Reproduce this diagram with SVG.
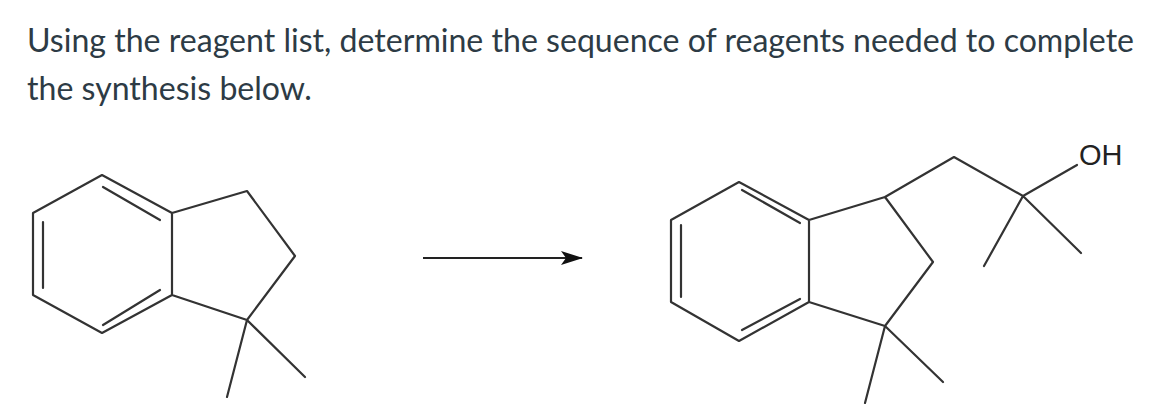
<svg xmlns="http://www.w3.org/2000/svg" width="1162" height="420" viewBox="0 0 1162 420">
<style>
.t{font-family:Lato,"Liberation Sans",sans-serif;font-size:32.1px;fill:#2d3b45}
.b{stroke:#333;stroke-width:2.2;fill:none;stroke-linecap:round;stroke-linejoin:round}
.a{font-family:"Liberation Sans",Arial,sans-serif;font-size:29px;fill:#222}
</style>
<defs><marker id="ah" markerWidth="22" markerHeight="14" refX="21" refY="7" orient="auto" markerUnits="userSpaceOnUse"><path d="M0,0 L22,7 L0,14 L5,7 Z" fill="#111"/></marker></defs>
<rect width="1162" height="420" fill="#fff"/>
<text class="t" x="27" y="52">Using the reagent list, determine the sequence of reagents needed to complete</text>
<text class="t" x="27" y="100">the synthesis below.</text>
<g id="reactant">
<path class="b" d="M102,175 L33,213 L33,295 L102,333 L172,295 L172,213 Z M43,222 L43,288 M103,187 L160,220 M103,325 L160,290 M172,213 L247,191 L295,256 L247,320 L172,295 M247,320 L227,397 M247,320 L305,377"/>
</g>
<g id="product">
<path class="b" d="M739,182 L671,220 L671,302 L739,341 L809,302 L809,220 Z M681,225 L681,297 M742,190 L800,223 M742,330 L800,299 M809,220 L885,197 L933,262 L885,326 L809,302 M885,326 L865,403 M885,326 L943,382 M885,197 L954,157 L1023,196 L1077,165 M1023,196 L984,266 M1023,196 L1081,253"/>
<text class="a" x="1079" y="165">OH</text>
</g>
<g id="connectors">
<line x1="423" y1="258" x2="582" y2="258" stroke="#222" stroke-width="2" marker-end="url(#ah)"/>
</g>
</svg>
